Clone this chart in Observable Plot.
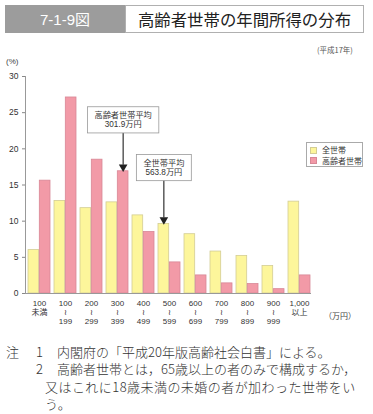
<!DOCTYPE html>
<html><head><meta charset="utf-8">
<script src="https://cdn.jsdelivr.net/npm/d3@7"></script>
<script src="https://cdn.jsdelivr.net/npm/@observablehq/plot@0.6"></script>
<style>
body{margin:0;background:#fff;}
#wrap{position:relative;width:373px;height:414px;overflow:hidden;font-family:"Noto Sans CJK JP",sans-serif;color:#333;}
#wrap svg{position:absolute;left:0;top:0;}
.abs{position:absolute;white-space:nowrap;line-height:1;}
</style></head><body><div id="wrap"></div>
<script>
const categories = ["<100","100-199","200-299","300-399","400-499","500-599","600-699","700-799","800-899","900-999","1000+"];
const tickLabels = ["100\n未満","100\n≀\n199","200\n≀\n299","300\n≀\n399","400\n≀\n499","500\n≀\n599","600\n≀\n699","700\n≀\n799","800\n≀\n899","900\n≀\n999","1,000\n以上"];
const allHouseholds = [6.0,12.8,11.8,12.6,10.8,9.6,8.2,5.8,5.2,3.8,12.7];
const elderlyHouseholds = [15.6,27.1,18.5,16.9,8.5,4.3,2.5,1.4,1.3,0.6,2.5];
const seriesNames = ["全世帯","高齢者世帯"];
const seriesColors = ["#fdf69b","#f29aa7"];
const seriesStrokes = ["#d3cd95","#d88796"];
const yTicks = [0,5,10,15,20,25,30];
const callouts = [
  {series:"高齢者世帯", category:"300-399", value:16.9, labelAt:24.0, label:"高齢者世帯平均\n301.9万円"},
  {series:"全世帯", category:"500-599", value:9.6, labelAt:17.4, label:"全世帯平均\n563.8万円"}
];
const titleNo = "7-1-9図";
const title = "高齢者世帯の年間所得の分布";
const yearNote = "(平成17年)";
const yUnit = "(%)";
const xUnit = "（万円）";
const notes = [
  ["注", "1", "内閣府の「平成20年版高齢社会白書」による。"],
  ["", "2", "高齢者世帯とは，65歳以上の者のみで構成するか，"],
  ["", "", "又はこれに18歳未満の未婚の者が加わった世帯をい"],
  ["", "", "う。"]
];

const rows = [
  ...categories.map((c,i)=>({category:c, series:seriesNames[0], value:allHouseholds[i]})),
  ...categories.map((c,i)=>({category:c, series:seriesNames[1], value:elderlyHouseholds[i]}))
];
const ticks = categories.map((c,i)=>({category:c, label:tickLabels[i]}));

const W = 373, H = 330;
const xRange = [24.85, 314.15], padIn = 0.14, padOut = 0.07;
const step = (xRange[1]-xRange[0])/(categories.length - padIn + 2*padOut);
const bw = step*(1-padIn);
const off = s => s===seriesNames[0] ? -bw/4 : bw/4;

const calloutMarks = seriesNames.flatMap(s => {
  const data = callouts.filter(d=>d.series===s);
  const dx = off(s);
  return [
    Plot.ruleX(data, {x:"category", y1:"labelAt", y2:"value", stroke:"#333", strokeWidth:1.2, dx, dy:-6}),
    Plot.dot(data, {x:"category", y:"value", symbol:"triangle", rotate:180, r:3.2, fill:"#222", stroke:"none", dx, dy:-4.2}),
    Plot.text(data, {x:"category", y:"labelAt", text:"label", fontSize: 8.2, lineHeight: 1.12, fill:"#333", dx, className:"callout"})
  ];
});

const plot = Plot.plot({
  width: W, height: H,
  marginTop: 76, marginBottom: 37, marginLeft: 25, marginRight: 62,
  style: {fontFamily: "'Liberation Sans', Arial, 'Noto Sans CJK JP', sans-serif", background: "transparent", color:"#333"},
  x: {type:"band", domain: categories, range: xRange, paddingInner: padIn, paddingOuter: padOut, axis: null},
  y: {domain:[0,30], axis: null},
  marks: [
    Plot.barY(rows.filter(d=>d.series===seriesNames[0]), {x:"category", y:"value", fill:seriesColors[0], stroke:seriesStrokes[0], strokeWidth:0.8, insetRight: bw/2}),
    Plot.barY(rows.filter(d=>d.series===seriesNames[1]), {x:"category", y:"value", fill:seriesColors[1], stroke:seriesStrokes[1], strokeWidth:0.8, insetLeft: bw/2}),
    Plot.axisY({ticks: yTicks, tickSize: 3, tickPadding: 4, fontSize: 8.5, stroke:"#888", label: null}),
    Plot.ruleY([0], {stroke:"#999", strokeWidth:1}),
    Plot.frame({anchor:"left", stroke:"#999"}),
    Plot.text(ticks, {x:"category", y:0, text:"label", dy: 6.5, lineAnchor:"top", fontSize: 8, lineHeight: 1.12, fill:"#333"}),
    ...calloutMarks
  ]
});

const wrap = document.getElementById("wrap");
wrap.appendChild(plot);

// boxes behind callout text
plot.querySelectorAll("g.callout").forEach(g => {
  Array.from(g.querySelectorAll("text")).forEach(t=>{
    const b = t.getBBox();
    const r = document.createElementNS("http://www.w3.org/2000/svg","rect");
    const px = 7, py = 3.5;
    r.setAttribute("x", b.x-px); r.setAttribute("y", b.y-py);
    r.setAttribute("width", b.width+2*px); r.setAttribute("height", b.height+2*py);
    r.setAttribute("fill","#fff"); r.setAttribute("stroke","#999"); r.setAttribute("stroke-width","0.8");
    const tr = t.getAttribute("transform"); if (tr) r.setAttribute("transform", tr);
    t.parentNode.insertBefore(r, t);
  });
});

function add(html, css){ const d=document.createElement("div"); d.className="abs"; d.innerHTML=html; Object.assign(d.style, css); wrap.appendChild(d); return d; }

// title banner
add(titleNo, {left:"5px", top:"5px", width:"120px", height:"28px", background:"#9c9c9c", color:"#fff", fontSize:"15px", display:"flex", alignItems:"center", justifyContent:"center", fontFamily:"'Liberation Sans', Arial, 'Noto Sans CJK JP', sans-serif"});
add(title, {left:"125px", top:"5px", width:"237px", height:"26px", border:"1px solid #b0b0b0", background:"#fff", color:"#222", fontSize:"16.4px", display:"flex", alignItems:"center", justifyContent:"center"});
add(yearNote, {left:"317px", top:"46px", fontSize:"7.5px", color:"#555"});
add(yUnit, {left:"6px", top:"58px", fontSize:"8px", color:"#444", fontFamily:"'Liberation Sans', Arial, sans-serif"});
add(xUnit, {left:"324px", top:"312px", fontSize:"8px", color:"#444"});

// legend
{
  const lg = add("", {left:"306px", top:"142px", width:"55px", height:"23px", border:"1px solid #aaa", background:"#fff"});
  seriesNames.forEach((n,i)=>{
    const row = document.createElement("div");
    row.style.cssText = `position:absolute;left:3px;top:${2+i*10.5}px;font-size:8px;line-height:10px;display:flex;align-items:center;color:#333;`;
    row.innerHTML = `<span style="display:inline-block;width:5px;height:5px;background:${seriesColors[i]};border:0.5px solid ${seriesStrokes[i]};margin-right:5px;"></span>${n}`;
    lg.appendChild(row);
  });
}

// notes
const noteSpacing = [0, 0, 0.45, 0.45];
notes.forEach((n,i)=>{
  const top = 345 + i*17.4;
  if (n[0]) add(n[0], {left:"6px", top:top+"px", fontSize:"13px", fontWeight:"300"});
  if (n[1]) add(n[1], {left:"36px", top:top+"px", fontSize:"13px", fontWeight:"300"});
  add(n[2], {left:(n[1]? "57px" : "45px"), top:top+"px", fontSize:"13px", fontWeight:"300", letterSpacing: noteSpacing[i]+"px"});
});
</script></body></html>
